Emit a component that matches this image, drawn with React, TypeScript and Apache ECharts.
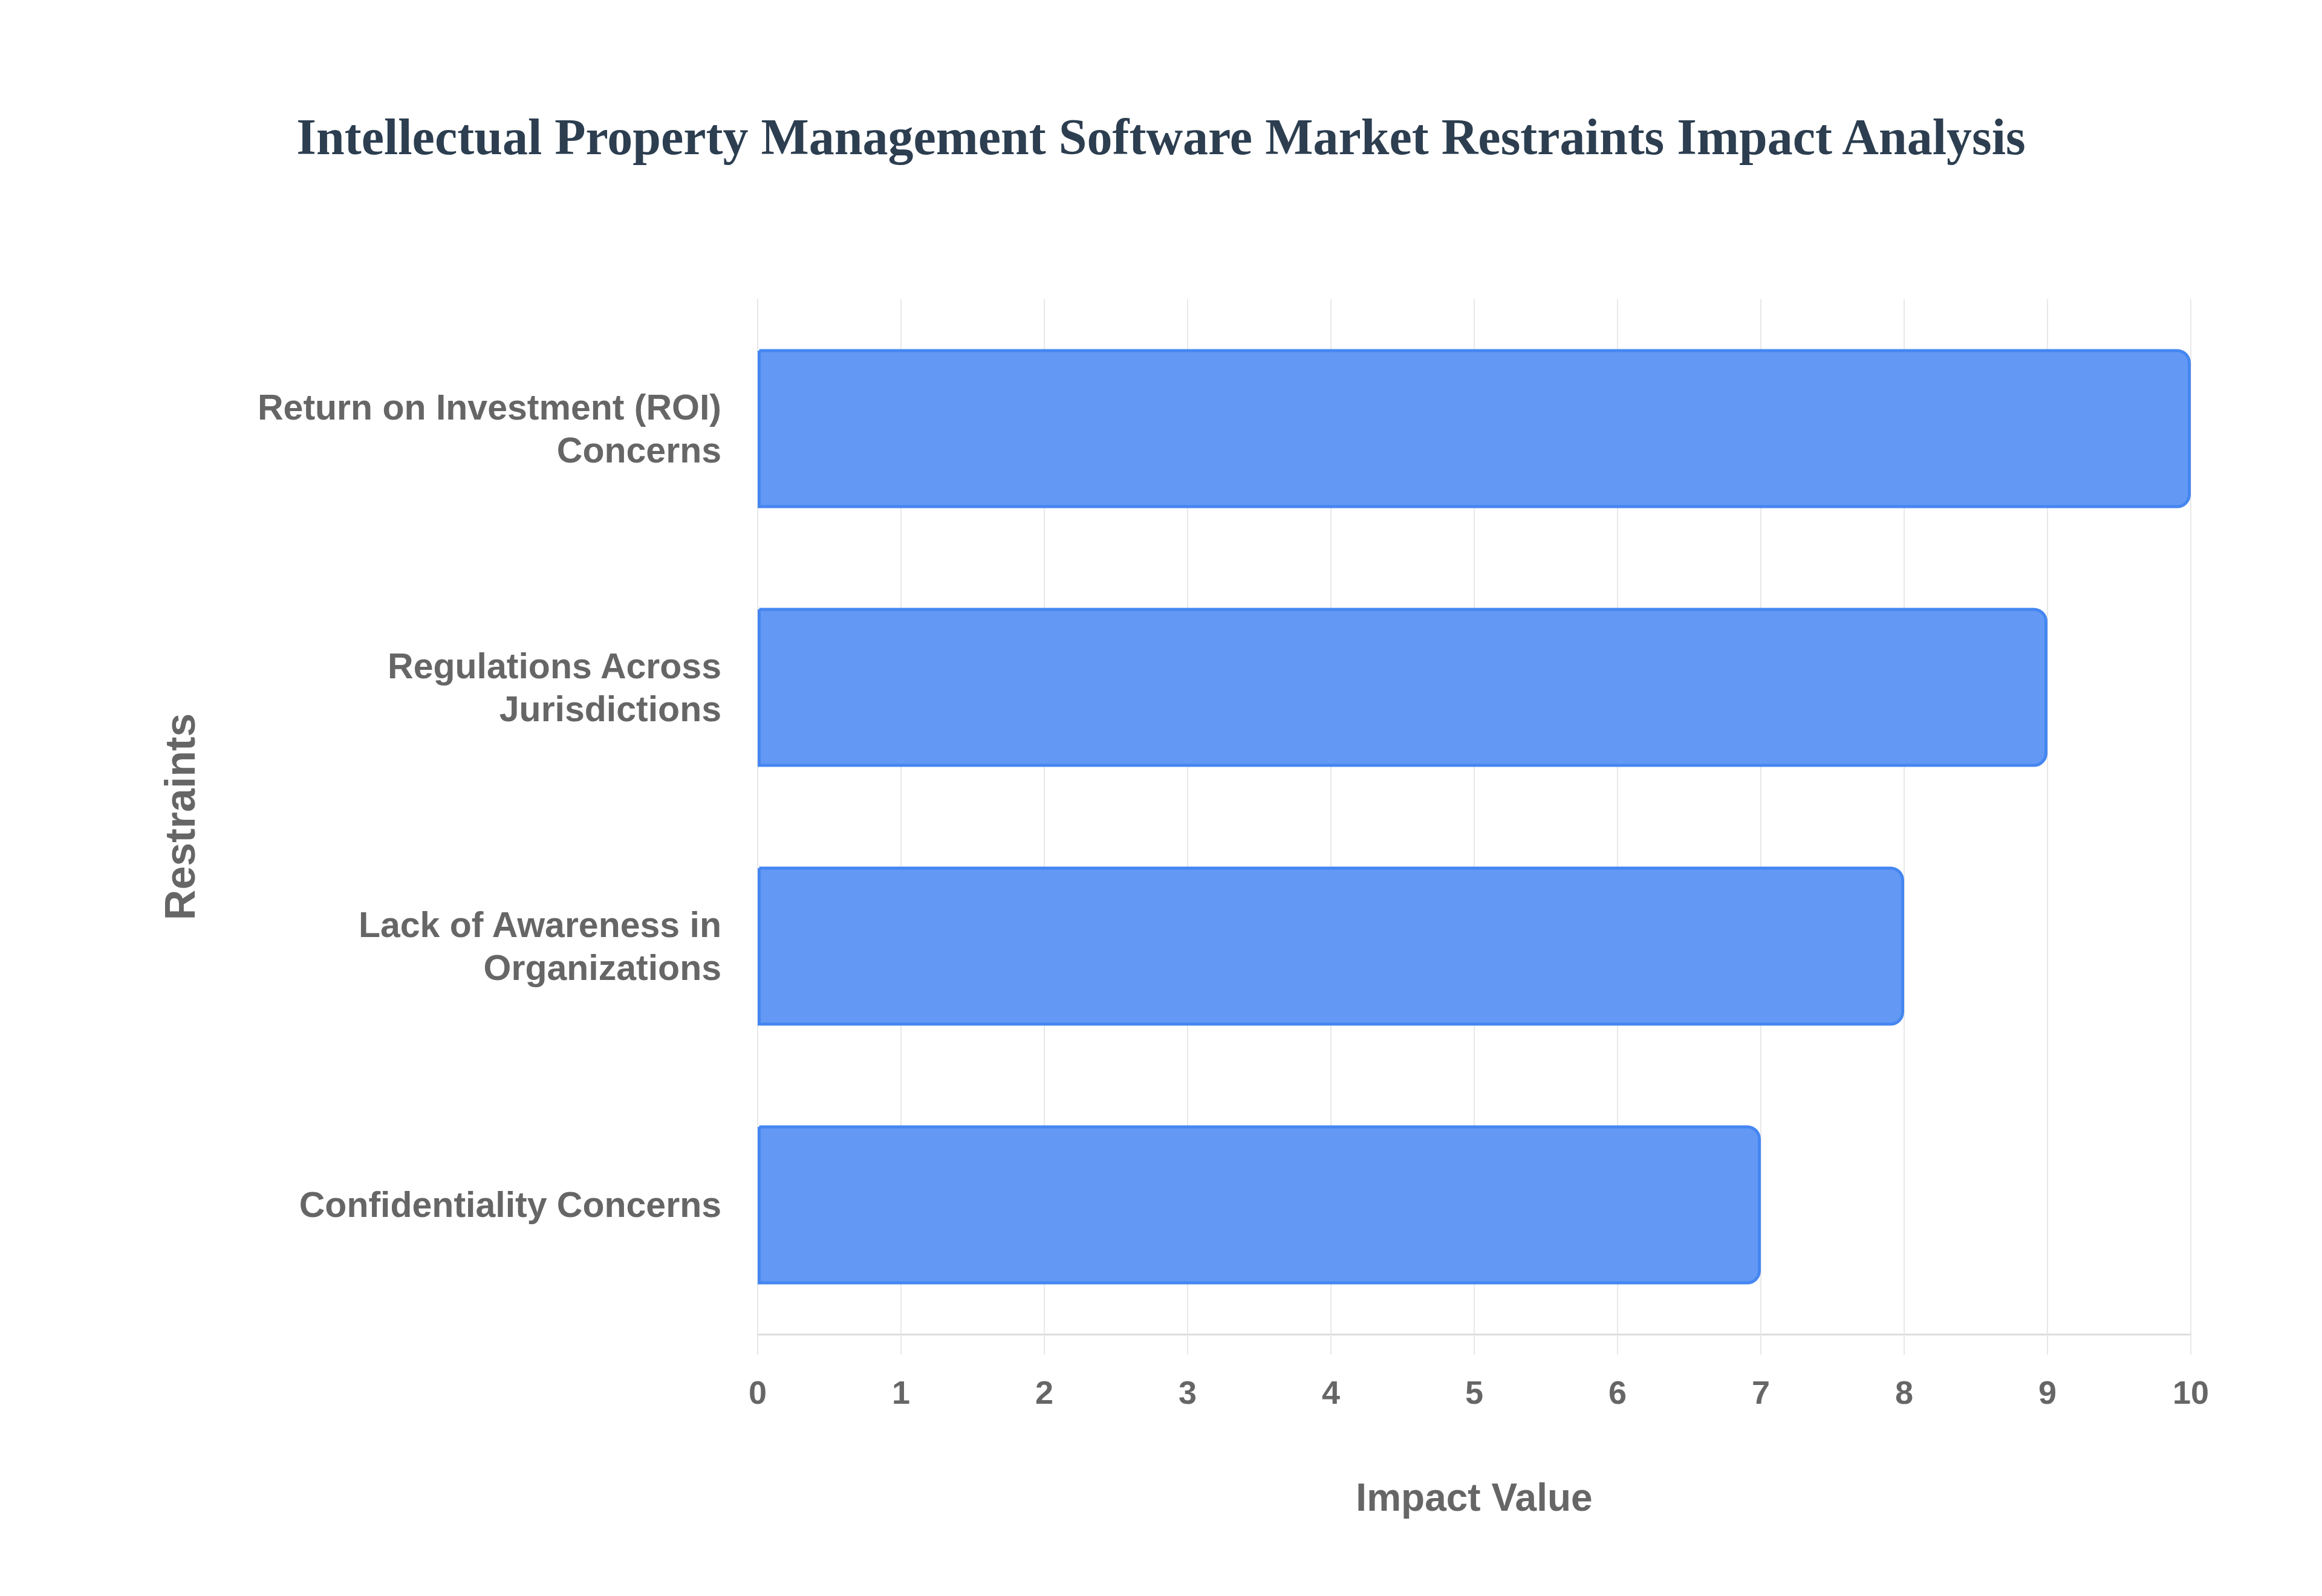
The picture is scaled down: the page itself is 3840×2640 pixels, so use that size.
import React, { useEffect, useRef } from 'react';
import * as echarts from 'echarts';

const titleText = 'Intellectual Property Management Software Market Restraints Impact Analysis';
const restraints = [
  'Return on Investment (ROI) Concerns',
  'Regulations Across Jurisdictions',
  'Lack of Awareness in Organizations',
  'Confidentiality Concerns',
];
const impactValues = [10, 9, 8, 7];
const xTicks = { min: 0, max: 10, interval: 1 };

// greedy wrap so the long names break like the reference
const wrap = (s: string, max = 26) => {
  const words = s.split(' ');
  const lines: string[] = [];
  let cur = '';
  words.forEach(w => {
    if (cur && (cur + ' ' + w).length > max) { lines.push(cur); cur = w; }
    else cur = cur ? cur + ' ' + w : w;
  });
  if (cur) lines.push(cur);
  return lines.join('\n');
};

const SANS = '"Liberation Sans", Arial, Helvetica, sans-serif';

const App: React.FC = () => {
  const ref = useRef<HTMLDivElement | null>(null);

  useEffect(() => {
    document.body.style.margin = '0';
    if (!ref.current) return;
    const chart = echarts.init(ref.current, undefined, { renderer: 'svg' });
    chart.setOption({
      animation: false,
      backgroundColor: '#ffffff',
      title: {
        text: titleText,
        left: 'center',
        top: 179,
        textStyle: { fontFamily: '"Liberation Serif", "Times New Roman", serif', fontWeight: 'bold', fontSize: 84, color: '#2c3e50', lineHeight: 84 },
      },
      grid: { left: 1253, right: 217, top: 495, bottom: 433, containLabel: false },
      xAxis: {
        type: 'value',
        min: xTicks.min,
        max: xTicks.max,
        interval: xTicks.interval,
        name: 'Impact Value',
        nameLocation: 'middle',
        nameGap: 238,
        nameTextStyle: { fontFamily: SANS, fontWeight: 'bold', fontSize: 64, color: '#666666' },
        axisLine: { show: true, lineStyle: { color: '#dddddd', width: 3 } },
        axisTick: { show: true, length: 34, lineStyle: { color: '#e8e8e8', width: 2 } },
        axisLabel: { margin: 69, fontFamily: SANS, fontWeight: 'bold', fontSize: 54, color: '#666666' },
        splitLine: { show: true, lineStyle: { color: '#e8e8e8', width: 2 } },
      },
      yAxis: {
        type: 'category',
        inverse: true,
        data: restraints,
        name: 'Restraints',
        nameLocation: 'middle',
        nameGap: 920,
        nameRotate: 90,
        nameTextStyle: { fontFamily: SANS, fontWeight: 'bold', fontSize: 70, color: '#666666' },
        axisLine: { show: true, lineStyle: { color: '#e8e8e8', width: 2 } },
        axisTick: { show: false },
        axisLabel: {
          margin: 60,
          fontFamily: SANS,
          fontWeight: 'bold',
          fontSize: 59,
          lineHeight: 71,
          color: '#666666',
          align: 'right',
          formatter: (v: string) => wrap(v),
        },
        splitLine: { show: false },
      },
      series: [{
        type: 'bar',
        data: impactValues,
        barWidth: '61.5%',
        itemStyle: {
          color: '#6399f4',
          borderColor: '#4586f1',
          borderWidth: 5,
          borderRadius: [0, 20, 20, 0],
        },
      }],
    });
    return () => { chart.dispose(); };
  }, []);

  return <div ref={ref} style={{ width: 3840, height: 2640 }} />;
};

export default App;
